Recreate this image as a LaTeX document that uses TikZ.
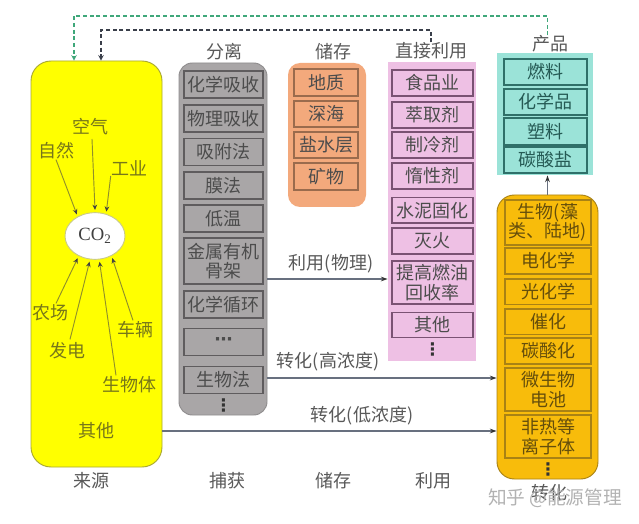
\documentclass[tikz,border=0pt]{standalone}
\usepackage{amsmath}
\usepackage{fontspec}
\setmainfont{Noto Sans CJK SC}
\newfontfamily\symfont{DejaVu Sans}
\newfontfamily\formulafont{Liberation Serif}
\usetikzlibrary{shapes}
\usetikzlibrary{arrows.meta}

\definecolor{srcfill}{HTML}{FFFF00}
\definecolor{srcline}{HTML}{A9A832}
\definecolor{srctext}{HTML}{77771A}
\definecolor{grayfill}{HTML}{A9A6A7}
\definecolor{grayline}{HTML}{5F5C5E}
\definecolor{orangefill}{HTML}{F3A97C}
\definecolor{orangeline}{HTML}{9A6B4D}
\definecolor{pinkfill}{HTML}{EEC0E4}
\definecolor{pinkline}{HTML}{7A5273}
\definecolor{tealfill}{HTML}{9BE3D8}
\definecolor{tealline}{HTML}{2F7069}
\definecolor{goldfill}{HTML}{F8BC0B}
\definecolor{goldline}{HTML}{A98214}
\definecolor{flowline}{HTML}{68707F}
\definecolor{greendash}{HTML}{3FA77A}
\definecolor{darkdash}{HTML}{3A3F4A}

\tikzset{
  lbl/.style={font=\fontsize{13.5}{14.5}\selectfont, inner sep=0pt, align=center, text=black!65},
  panel/.style={inner sep=0pt, line width=0.7pt},
  itembox/.style={lbl, draw, line width=1pt, text=black!70},
  grayitem/.style={itembox, draw=grayline, minimum width=59.25pt},
  orangeitem/.style={itembox, draw=orangeline, minimum width=48pt},
  pinkitem/.style={itembox, draw=pinkline, minimum width=60.75pt},
  tealitem/.style={itembox, draw=tealline, minimum width=62.25pt, text=tealline!80!black},
  golditem/.style={itembox, draw=goldline, minimum width=64.5pt, text=goldline!60!black},
  srclbl/.style={lbl, text=srctext},
  srcarrow/.style={-{Stealth[length=4pt,width=3.5pt,black!75]}, draw=srcline!85!black, line width=0.7pt},
  flowarrow/.style={-{Stealth[length=5pt,width=3.5pt,black!80]}, draw=flowline, line width=1pt},
  dotlbl/.style={inner sep=0pt, text=black!80, font=\symfont\bfseries\fontsize{13}{13}\selectfont},
}

\begin{document}
\begin{tikzpicture}[x=0.75pt,y=0.75pt,yscale=-1,xscale=1]
\useasboundingbox (0,0) rectangle (639,524);
\fill[white] (0,0) rectangle (639,524);

%Shape: Source panel
\node (srcpanel) [panel, draw=srcline, fill=srcfill, rounded corners=15pt, minimum width=98.25pt, minimum height=304.5pt] at (96.5,264) {};
%Shape: Capture panel
\node (capture) [panel, draw=grayline!70, fill=grayfill, rounded corners=10pt, minimum width=66pt, minimum height=264pt] at (223,239) {};
%Shape: Storage panel
\node (storage) [panel, fill=orangefill, rounded corners=9pt, minimum width=58.5pt, minimum height=108pt] at (327,135) {};
%Shape: Direct use panel
\node (direct) [panel, fill=pinkfill, minimum width=66pt, minimum height=224.25pt] at (432,211.5) {};
%Shape: Products panel
\node (products) [panel, fill=tealfill, minimum width=72pt, minimum height=91.5pt] at (545,114) {};
%Shape: Conversion panel
\node (convert) [panel, draw=goldline, fill=goldfill, rounded corners=13pt, minimum width=75.75pt, minimum height=213pt] at (547.5,337) {};

%Source labels
\node (co2) [panel, draw=srcline!60, fill=white, ellipse, minimum width=45pt, minimum height=35pt, outer sep=2pt] at (95,236) {\formulafont\fontsize{14}{16}\selectfont\color{black!75}CO\textsubscript{2}};
\node (air) [srclbl] at (90,127) {空气};
\node (nature) [srclbl] at (56,151) {自然};
\node (industry) [srclbl] at (129,168) {工业};
\node (farm) [srclbl] at (50,313) {农场};
\node (power) [srclbl] at (67,351) {发电};
\node (vehicle) [srclbl] at (135,330) {车辆};
\node (biomass) [srclbl] at (129,385) {生物体};
\node (srcother) [srclbl] at (96,431) {其他};

%Source arrows
\draw [srcarrow] (nature.south) -- (co2.130);
\draw [srcarrow] (air) ++(2,12) -- (co2.north);
\draw [srcarrow] (industry.south west) -- (co2.65);
\draw [srcarrow] (farm.north) ++(6,-1) -- (co2.232);
\draw [srcarrow] (power.north) ++(3,-3) -- (co2.258);
\draw [srcarrow] (biomass.north) ++(-13,-1) -- (co2.280);
\draw [srcarrow] (vehicle.north) ++(-2,-1) -- (co2.308);

%Capture items
\node (cap1) [grayitem, minimum height=20.25pt] at (223.5,84.5) {化学吸收};
\node (cap2) [grayitem, minimum height=20.25pt] at (223.5,118.5) {物理吸收};
\node (cap3) [grayitem, minimum height=20.25pt] at (223.5,152) {吸附法};
\node (cap4) [grayitem, minimum height=20.25pt] at (223.5,185.5) {膜法};
\node (cap5) [grayitem, minimum height=20.25pt] at (223.5,218.5) {低温};
\node (cap6) [grayitem, minimum height=34.5pt] at (223.5,261) {金属有机\\骨架};
\node (cap7) [grayitem, minimum height=20.25pt] at (223.5,304.5) {化学循环};
\node (cap8) [grayitem, minimum height=20.25pt] at (223.5,342) {\symfont\bfseries ⋯};
\node (cap9) [grayitem, minimum height=20.25pt] at (223.5,380) {生物法};
\node (capdots) [dotlbl] at (223.5,405) {⋮};

%Storage items
\node (sto1) [orangeitem, minimum height=20.25pt] at (326,82.5) {地质};
\node (sto2) [orangeitem, minimum height=19.5pt] at (326,114) {深海};
\node (sto3) [orangeitem, minimum height=19.5pt] at (326,145) {盐水层};
\node (sto4) [orangeitem, minimum height=20.25pt] at (326,176.5) {矿物};

%Direct use items
\node (use1) [pinkitem, minimum height=19.5pt] at (432.5,83) {食品业};
\node (use2) [pinkitem, minimum height=19.5pt] at (432.5,115) {萃取剂};
\node (use3) [pinkitem, minimum height=19.5pt] at (432.5,145) {制冷剂};
\node (use4) [pinkitem, minimum height=19.5pt] at (432.5,176) {惰性剂};
\node (use5) [pinkitem, minimum height=19pt] at (432.5,210.5) {水泥固化};
\node (use6) [pinkitem, minimum height=19.5pt] at (432.5,241) {灭火};
\node (use7) [pinkitem, minimum height=32.25pt] at (432.5,282.5) {提高燃油\\回收率};
\node (use8) [pinkitem, minimum height=19pt] at (432.5,325) {其他};
\node (usedots) [dotlbl] at (432.5,349) {⋮};

%Product items
\node (prod1) [tealitem, minimum height=19.5pt] at (545.5,72) {燃料};
\node (prod2) [tealitem, minimum height=19.5pt] at (545.5,102) {化学品};
\node (prod3) [tealitem, minimum height=20.25pt] at (545.5,131.5) {塑料};
\node (prod4) [tealitem, minimum height=19.5pt] at (545.5,160) {碳酸盐};

%Conversion items
\node (con1) [golditem, minimum height=33.75pt] at (548,222.5) {生物(藻\\类、陆地)};
\node (con2) [golditem, minimum height=19.5pt] at (548,261) {电化学};
\node (con3) [golditem, minimum height=19pt] at (548,291.5) {光化学};
\node (con4) [golditem, minimum height=19pt] at (548,321.5) {催化};
\node (con5) [golditem, minimum height=19.5pt] at (548,351) {碳酸化};
\node (con6) [golditem, minimum height=32.25pt] at (548,389.5) {微生物\\电池};
\node (con7) [golditem, minimum height=32.25pt] at (548,436.5) {非热等\\离子体};
\node (condots) [dotlbl] at (548,469) {⋮};

%Flow levels
\coordinate (physlevel) at (0,279);
\coordinate (highlevel) at (0,378);
\coordinate (lowlevel) at (0,431);

%Flow arrows
\draw [flowarrow] (capture.east |- physlevel) -- (direct.west |- physlevel);
\draw [flowarrow] (capture.east |- highlevel) -- (convert.west |- highlevel);
\draw [flowarrow] (srcpanel.east |- lowlevel) -- (convert.west |- lowlevel);
\draw [flowarrow] (convert.north) -- (products.south -| convert.north);

%Flow labels
\node (physlbl) [lbl] at (331,264) {利用(物理)};
\node (highlbl) [lbl] at (328,362) {转化(高浓度)};
\node (lowlbl) [lbl] at (362,416) {转化(低浓度)};

%Top headings
\node (head1) [lbl] at (224,52) {分离};
\node (head2) [lbl] at (333,52) {储存};
\node (head3) [lbl] at (431,51) {直接利用};
\node (head4) [lbl] at (550,44) {产品};

%Bottom headings
\node (foot1) [lbl] at (91,481) {来源};
\node (foot2) [lbl] at (227,481) {捕获};
\node (foot3) [lbl] at (333,481) {储存};
\node (foot4) [lbl] at (433,481) {利用};
\node (foot5) [lbl] at (549,493) {转化};

%Dashed return lines
\coordinate (greentop) at (74,16);
\coordinate (darktop) at (101,30);
\draw [-stealth, draw=greendash, densely dashed, line width=0.8pt] (head4.north -| convert.north) -- (convert.north |- greentop) -- (greentop) -- (srcpanel.north -| greentop);
\draw [-stealth, draw=darkdash, densely dashed, line width=0.8pt] (head3.north) -- (head3.north |- darktop) -- (darktop) -- (srcpanel.north -| darktop);

%Watermark
\node (mark) [lbl, text=black!30, font=\fontsize{14}{16}\selectfont] at (555,498) {知乎 @能源管理};
\end{tikzpicture}
\end{document}
